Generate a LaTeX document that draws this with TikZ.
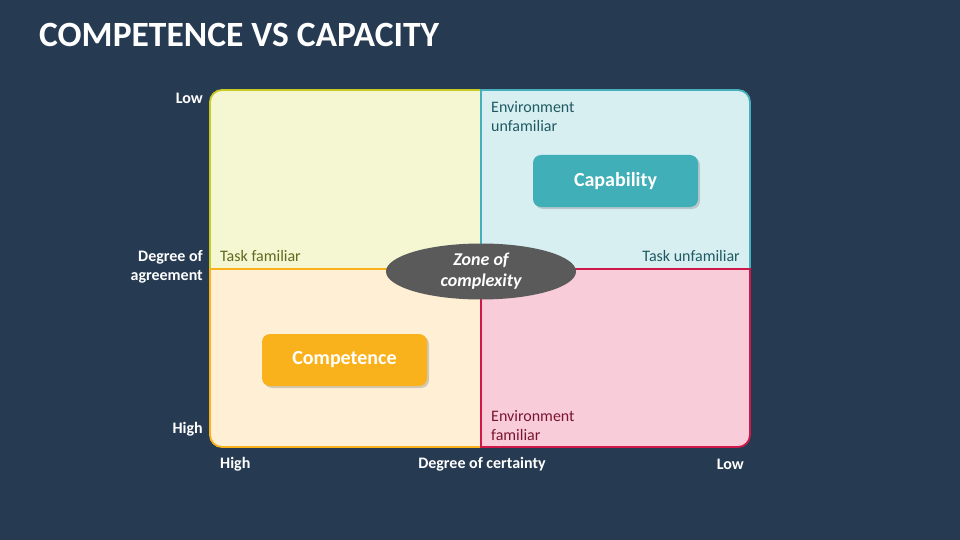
\documentclass[tikz,border=0pt]{standalone}
\usepackage{fontspec}
\setmainfont{Carlito}
\usetikzlibrary{shapes.geometric,shadows}
\definecolor{bg}{HTML}{263A52}
\definecolor{tlfill}{HTML}{F5F6D2}
\definecolor{tlline}{HTML}{C9CA24}
\definecolor{trfill}{HTML}{D8EFF2}
\definecolor{trline}{HTML}{45B0BC}
\definecolor{blfill}{HTML}{FFEFD4}
\definecolor{blline}{HTML}{F9B21B}
\definecolor{brfill}{HTML}{F8CCD9}
\definecolor{brline}{HTML}{D0174A}
\definecolor{captext}{HTML}{40AFB7}
\definecolor{comptext}{HTML}{F9B21B}
\definecolor{zone}{HTML}{5A5A5A}
\definecolor{oliv}{HTML}{5E6A1E}
\definecolor{tealtxt}{HTML}{1F5A62}
\definecolor{redtxt}{HTML}{7A1530}
\tikzset{
  quad/.style={line width=1.8pt},
  axislbl/.style={text=white, font=\fontsize{16}{19}\selectfont\bfseries, inner sep=0pt},
  qlbl/.style={font=\fontsize{16}{19}\selectfont, inner sep=0pt, align=left},
  keybox/.style={rounded corners=8pt, minimum width=165pt, minimum height=52pt, text=white,
     font=\fontsize{20}{22}\selectfont\bfseries, drop shadow={shadow xshift=2pt, shadow yshift=-2pt, opacity=0.35}}
}
\begin{document}
\begin{tikzpicture}[x=1pt,y=-1pt]
\fill[bg] (0,0) rectangle (960,540);
\useasboundingbox (0,0) rectangle (960,540);
\node[anchor=west, text=white, font=\fontsize{35.5}{38}\selectfont\bfseries, inner sep=0pt] (title) at (39,35) {COMPETENCE VS CAPACITY};
% quadrants
\draw[quad, tlline, fill=tlfill] (210,269) [rounded corners=12pt] -- (210,90) [sharp corners] -- (481,90) -- (481,269) -- cycle;
\draw[quad, trline, fill=trfill] (481,269) -- (481,90) [rounded corners=12pt] -- (750,90) [sharp corners] -- (750,269) -- cycle;
\draw[quad, blline, fill=blfill] (481,269) -- (210,269) [rounded corners=12pt] -- (210,447) [sharp corners] -- (481,447) -- cycle;
\draw[quad, brline, fill=brfill] (481,447) -- (481,269) -- (750,269) [rounded corners=12pt] -- (750,447) [sharp corners] -- cycle;
% quadrant labels
\node[qlbl, text=oliv, anchor=west] (tf) at (220,256) {Task familiar};
\node[qlbl, text=tealtxt, anchor=north west] (eu) at (491,101) {Environment\\unfamiliar};
\node[qlbl, text=tealtxt, anchor=east] (tu) at (740,256) {Task unfamiliar};
\node[qlbl, text=redtxt, anchor=north west] (ef) at (491,410) {Environment\\familiar};
% key boxes
\node[keybox, fill=captext] (cap) at (615.5,181) {\raisebox{-1pt}{Capability}};
\node[keybox, fill=comptext] (comp) at (344.5,360) {\raisebox{-1.5pt}{Competence}};
% zone
\node[ellipse, fill=zone, minimum width=190pt, minimum height=56pt, inner sep=0pt, text=white,
  font=\fontsize{18}{21}\selectfont\bfseries\itshape, align=center] (zone) at (481,271.5) {Zone of\\complexity};
% axis labels
\node[axislbl, anchor=east] (lowy) at (203,98) {Low};
\node[axislbl, anchor=east, align=right] (agr) at (203,266.5) {Degree of\\agreement};
\node[axislbl, anchor=east] (highy) at (203,429) {High};
\node[axislbl, anchor=west] (highx) at (220,464) {High};
\node[axislbl] (cert) at (482,464) {Degree of certainty};
\node[axislbl, anchor=east] (lowx) at (744,464) {Low};
\end{tikzpicture}
\end{document}
